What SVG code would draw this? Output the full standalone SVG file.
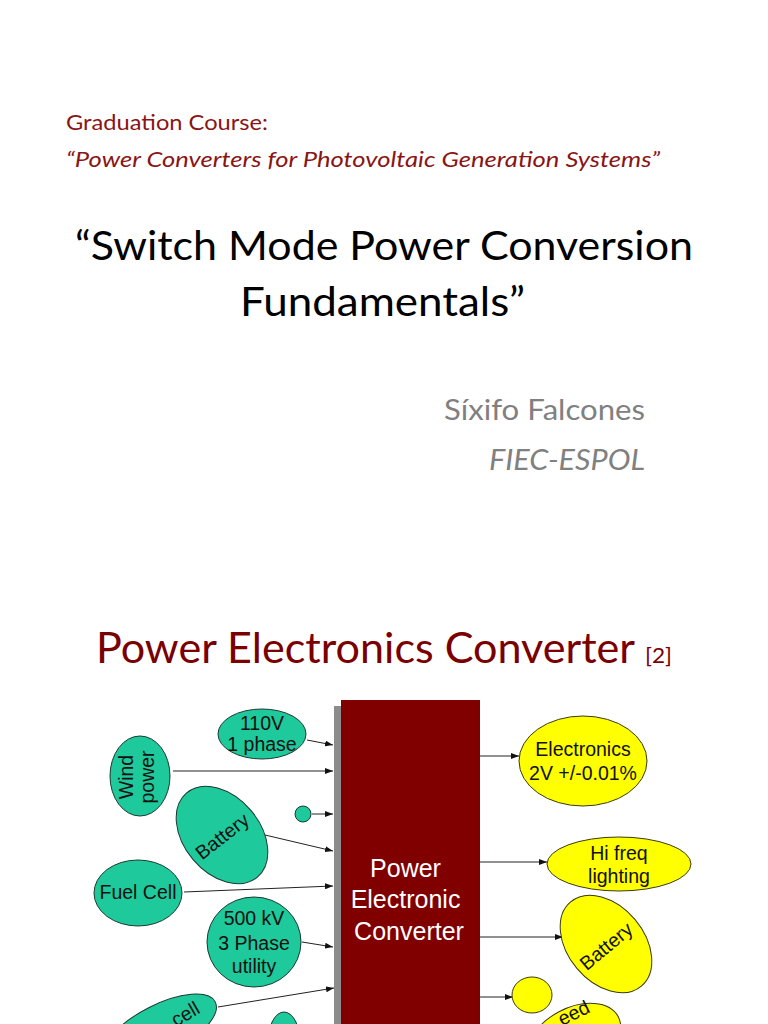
<svg xmlns="http://www.w3.org/2000/svg" width="768" height="1024" viewBox="0 0 768 1024">
<defs>
<style>
.hd{font-family:Lato,"Open Sans","Liberation Sans",sans-serif}
.red{fill:#8a1515}
.dred{fill:#7a0000}
.gray{fill:#808080}
.nt{font-family:"Liberation Sans",Arial,sans-serif;font-size:19.5px;fill:#111;text-anchor:middle}
.g{fill:#1ec99b;stroke:#1a3a30;stroke-width:1}
.y{fill:#ffff00;stroke:#3a3a10;stroke-width:1}
.c{stroke:#222;stroke-width:1;fill:none;marker-end:url(#ah)}
</style>
<marker id="ah" markerUnits="userSpaceOnUse" markerWidth="8" markerHeight="6" refX="8" refY="3" orient="auto">
<path d="M0,0 L8,3 L0,6 z" fill="#111"/>
</marker>
</defs>
<rect width="768" height="1024" fill="#ffffff"/>

<g id="header">
<text class="hd red" x="66" y="130" font-size="21" textLength="202" lengthAdjust="spacingAndGlyphs">Graduation Course:</text>
<text class="hd red" x="66" y="167" font-size="21" font-style="italic" textLength="594" lengthAdjust="spacingAndGlyphs">“Power Converters for Photovoltaic Generation Systems”</text>
<text class="hd" x="75" y="260" font-size="41" fill="#000" textLength="618" lengthAdjust="spacingAndGlyphs">“Switch Mode Power Conversion</text>
<text class="hd" x="240" y="316" font-size="41" fill="#000" textLength="285" lengthAdjust="spacingAndGlyphs">Fundamentals”</text>
<text class="hd gray" x="444" y="420" font-size="29" textLength="201" lengthAdjust="spacingAndGlyphs">Síxifo Falcones</text>
<text class="hd gray" x="489" y="470" font-size="29" font-style="italic" textLength="156" lengthAdjust="spacingAndGlyphs">FIEC-ESPOL</text>
<text class="hd dred" x="96" y="663" font-size="42" textLength="539" lengthAdjust="spacingAndGlyphs">Power Electronics Converter</text>
<text class="hd dred" x="645" y="663" font-size="22" textLength="27" lengthAdjust="spacingAndGlyphs">[2]</text>
</g>

<g id="converter">
<rect x="334" y="706" width="8" height="320" fill="#8c8c8c"/>
<rect x="341" y="700" width="139" height="326" fill="#800000"/>
<text font-family="Liberation Sans,Arial,sans-serif" font-size="25" fill="#ffffff" text-anchor="middle">
<tspan x="409" y="877">Power</tspan>
<tspan x="409" y="908">Electronic</tspan>
<tspan x="409" y="940">Converter</tspan>
</text>
</g>

<g id="connectors">
<line class="c" x1="307" y1="740" x2="333" y2="745"/>
<line class="c" x1="173" y1="771" x2="333" y2="771"/>
<line class="c" x1="312" y1="814" x2="333" y2="814"/>
<line class="c" x1="265" y1="835" x2="333" y2="851"/>
<line class="c" x1="184" y1="892" x2="333" y2="886"/>
<line class="c" x1="302" y1="942" x2="333" y2="947"/>
<line class="c" x1="218" y1="1007" x2="334" y2="988"/>
<line class="c" x1="480" y1="756" x2="519" y2="756"/>
<line class="c" x1="480" y1="862" x2="547" y2="862"/>
<line class="c" x1="480" y1="937" x2="563" y2="937"/>
<line class="c" x1="480" y1="997" x2="513" y2="997"/>
</g>

<g id="n110v">
<ellipse class="g" cx="262" cy="734" rx="44" ry="25"/>
<text class="nt"><tspan x="262" y="730">110V</tspan><tspan x="262" y="751">1 phase</tspan></text>
</g>
<g id="nwind">
<ellipse class="g" cx="140" cy="776" rx="30" ry="40"/>
<text class="nt" transform="translate(140,777) rotate(-90)"><tspan x="0" y="-7">Wind</tspan><tspan x="0" y="14">power</tspan></text>
</g>
<g id="nsmallg">
<circle class="g" cx="303" cy="814" r="8"/>
</g>
<g id="nbattg">
<ellipse class="g" cx="222" cy="835" rx="38" ry="55" transform="rotate(-40 222 835)"/>
<text class="nt" transform="translate(222,836) rotate(-38)" x="0" y="7">Battery</text>
</g>
<g id="nfuel">
<ellipse class="g" cx="138" cy="893" rx="44" ry="33"/>
<text class="nt" x="138" y="899">Fuel Cell</text>
</g>
<g id="n500kv">
<ellipse class="g" cx="254" cy="942" rx="47" ry="45"/>
<text class="nt"><tspan x="254" y="925">500 kV</tspan><tspan x="254" y="950">3 Phase</tspan><tspan x="254" y="973">utility</tspan></text>
</g>
<g id="ncell">
<ellipse class="g" cx="160" cy="1030" rx="62" ry="25" transform="rotate(-27 160 1030)"/>
<text class="nt" text-anchor="start" transform="translate(176,1027) rotate(-30)" x="0" y="0" style="text-anchor:start">cell</text>
</g>
<g id="nsmallg2">
<ellipse class="g" cx="284" cy="1042" rx="16" ry="30"/>
</g>

<g id="nelec">
<ellipse class="y" cx="583" cy="761" rx="64" ry="45"/>
<text class="nt"><tspan x="583" y="756">Electronics</tspan><tspan x="583" y="780">2V +/-0.01%</tspan></text>
</g>
<g id="nhifreq">
<ellipse class="y" cx="619" cy="864" rx="72" ry="27"/>
<text class="nt"><tspan x="619" y="860">Hi freq</tspan><tspan x="619" y="883">lighting</tspan></text>
</g>
<g id="nbatty">
<ellipse class="y" cx="606" cy="944" rx="38" ry="55" transform="rotate(-40 606 944)"/>
<text class="nt" transform="translate(606,946) rotate(-40)" x="0" y="7">Battery</text>
</g>
<g id="nsmally">
<ellipse class="y" cx="532" cy="995" rx="20" ry="18"/>
</g>
<g id="nspeed">
<ellipse class="y" cx="574" cy="1040" rx="50" ry="32" transform="rotate(-28 574 1040)"/>
<text class="nt" transform="translate(562,1026) rotate(-26)" x="0" y="0" style="text-anchor:start">eed</text>
</g>
</svg>
